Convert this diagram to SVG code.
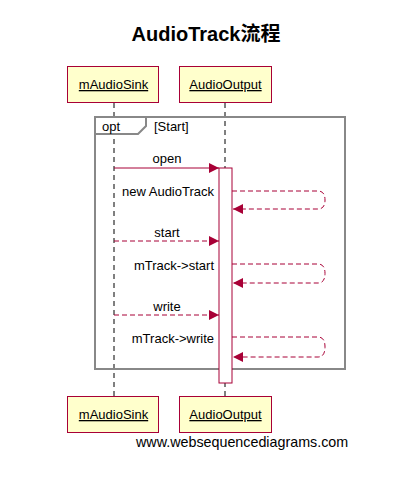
<svg xmlns="http://www.w3.org/2000/svg" width="414" height="481" viewBox="0 0 414 481">
<defs>
<style>
text{font-family:"Liberation Sans",Arial,sans-serif;fill:#000}
.box{fill:#ffffcc;stroke:#a80036;stroke-width:1}
.pl{font-size:13px;text-decoration:underline;text-anchor:middle}
.life{stroke:#000;stroke-width:1;stroke-dasharray:5,4;fill:none}
.msg{stroke:#a80036;stroke-width:1;fill:none}
.dash{stroke-dasharray:5,3}
.lbl{font-size:13px}
</style>
<marker id="ah" viewBox="0 0 10 10" refX="10" refY="5" markerWidth="10" markerHeight="10" markerUnits="userSpaceOnUse" orient="auto">
<path d="M0,0 L10,5 L0,10 z" fill="#a80036"/>
</marker>
</defs>
<rect width="414" height="481" fill="#fff"/>
<text x="206" y="41" font-size="20" font-weight="bold" text-anchor="middle" style="font-family:'Liberation Sans','Noto Sans CJK SC',sans-serif">AudioTrack流程</text>
<g id="lifelines">
<line class="life" x1="114" y1="103" x2="114" y2="396"/>
<line class="life" x1="225" y1="103" x2="225" y2="396"/>
</g>
<g id="opt-frame">
<rect x="95" y="117" width="250" height="252" fill="none" stroke="#888" stroke-width="2"/>
<path d="M95,117 L146,117 L146,126 L138,134 L95,134 Z" fill="#fff" stroke="#888" stroke-width="2"/>
<text class="lbl" x="102" y="131">opt</text>
<text class="lbl" x="154" y="131">[Start]</text>
</g>
<g id="activation">
<rect x="219" y="168" width="13" height="215" fill="#fff" stroke="#a80036"/>
</g>
<g id="connectors">
<line class="msg" x1="114" y1="168" x2="219" y2="168" marker-end="url(#ah)"/>
<path class="msg dash" d="M232,191 L318,191 Q325,191 325,200 Q325,209 318,209 L233,209" marker-end="url(#ah)"/>
<line class="msg dash" x1="114" y1="241" x2="219" y2="241" marker-end="url(#ah)"/>
<path class="msg dash" d="M232,264 L318,264 Q325,264 325,273.5 Q325,283 318,283 L233,283" marker-end="url(#ah)"/>
<line class="msg dash" x1="114" y1="315" x2="219" y2="315" marker-end="url(#ah)"/>
<path class="msg dash" d="M232,337 L318,337 Q325,337 325,347 Q325,357 318,357 L233,357" marker-end="url(#ah)"/>
</g>
<g id="labels">
<text class="lbl" x="167" y="163" text-anchor="middle">open</text>
<text class="lbl" x="214" y="196" text-anchor="end">new AudioTrack</text>
<text class="lbl" x="167" y="237" text-anchor="middle">start</text>
<text class="lbl" x="214" y="270" text-anchor="end">mTrack-&gt;start</text>
<text class="lbl" x="167" y="311" text-anchor="middle">write</text>
<text class="lbl" x="214" y="343" text-anchor="end">mTrack-&gt;write</text>
</g>
<g id="mAudioSink">
<rect class="box" x="67.5" y="66.5" width="91" height="36"/>
<text class="pl" x="113.5" y="89">mAudioSink</text>
</g>
<g id="AudioOutput">
<rect class="box" x="179.5" y="66.5" width="92" height="36"/>
<text class="pl" x="225.5" y="89">AudioOutput</text>
</g>
<g id="mAudioSink-bottom">
<rect class="box" x="67.5" y="396.5" width="91" height="36"/>
<text class="pl" x="113.5" y="419">mAudioSink</text>
</g>
<g id="AudioOutput-bottom">
<rect class="box" x="179.5" y="396.5" width="92" height="36"/>
<text class="pl" x="225.5" y="419">AudioOutput</text>
</g>
<text x="136" y="447" font-size="14.3" style="fill:#000">www.websequencediagrams.com</text>
</svg>
